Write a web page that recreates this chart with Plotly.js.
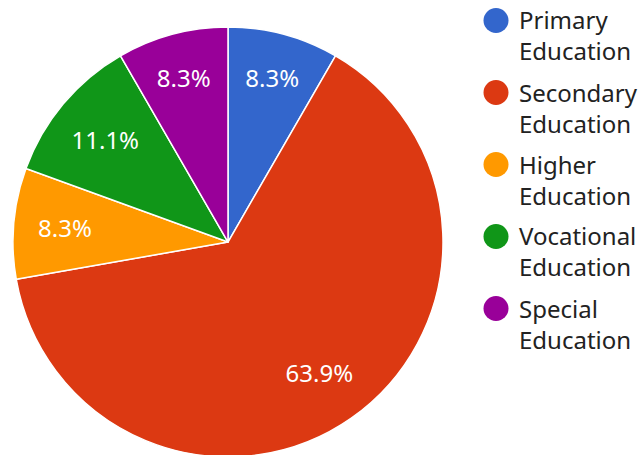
<!DOCTYPE html>
<html>
<head>
<meta charset="utf-8">
<script src="https://cdn.plot.ly/plotly-3.0.1.min.js"></script>
<style>
  html, body { margin: 0; padding: 0; overflow: hidden; background: #fff; }
  #chart { width: 640px; height: 457px; }
</style>
</head>
<body>
<div id="chart"></div>
<script>
// Data
const categories = ["Primary Education", "Secondary Education", "Higher Education", "Vocational Education", "Special Education"];
const counts = [3, 23, 3, 4, 3];
const sliceColors = ["#3366cc", "#dc3912", "#ff9900", "#109618", "#990099"];

const W = 640, H = 457;
const FONT = "Noto Sans, Open Sans, sans-serif";
const PCT = "%{percent:.1%}";

// which slices get their label from the main pie vs. the label overlay
const labelOnMain = [true, false, false, true, true];

const cx = 228, cy = 242, R = 215, R2 = 206;

const mainPie = {
  type: "pie",
  labels: categories,
  values: counts,
  sort: false,
  direction: "clockwise",
  rotation: 0,
  marker: { colors: sliceColors, line: { color: "#ffffff", width: 1.5 } },
  texttemplate: labelOnMain.map(m => m ? PCT : ""),
  textposition: "inside",
  insidetextorientation: "horizontal",
  textfont: { family: FONT, size: 24, color: "#ffffff" },
  hoverinfo: "none",
  showlegend: false,
  domain: { x: [(cx - R) / W, (cx + R) / W], y: [1 - (cy + R) / H, 1 - (cy - R) / H] }
};

// transparent overlay pie used only to place the remaining labels further out
const labelPie = {
  type: "pie",
  labels: categories,
  values: counts,
  sort: false,
  direction: "clockwise",
  rotation: 0,
  hole: 0.546,
  marker: { colors: categories.map(() => "rgba(0,0,0,0)"), line: { width: 0 } },
  texttemplate: labelOnMain.map(m => m ? "" : PCT),
  textposition: "inside",
  insidetextorientation: "horizontal",
  textfont: { family: FONT, size: 24, color: "#ffffff" },
  hoverinfo: "none",
  showlegend: false,
  domain: { x: [(cx - R2) / W, (cx + R2) / W], y: [1 - (cy + R2) / H, 1 - (cy - R2) / H] }
};

// Custom legend with round markers
const shapes = [];
const annotations = [];
const legendX = 496, legendTextX = 517, legendTop = 20.5, legendStep = 72;
categories.forEach((cat, i) => {
  const y = legendTop + i * legendStep;
  shapes.push({
    type: "circle", xref: "paper", yref: "paper",
    xsizemode: "pixel", ysizemode: "pixel",
    xanchor: legendX / W, yanchor: 1 - y / H,
    x0: -12.5, x1: 12.5, y0: -12.5, y1: 12.5,
    fillcolor: sliceColors[i], line: { width: 0 }
  });
  annotations.push({
    xref: "paper", yref: "paper",
    x: legendTextX / W, y: 1 - (y - 19) / H,
    xanchor: "left", yanchor: "top", align: "left",
    showarrow: false,
    text: cat.replace(" ", "<br>"),
    font: { family: FONT, size: 24, color: "#222222" }
  });
});

const layout = {
  width: W, height: H,
  margin: { l: 0, r: 0, t: 0, b: 0 },
  paper_bgcolor: "#ffffff",
  showlegend: false,
  shapes: shapes,
  annotations: annotations,
  hovermode: false
};

Plotly.newPlot("chart", [mainPie, labelPie], layout, { displayModeBar: false, staticPlot: true });
</script>
</body>
</html>
